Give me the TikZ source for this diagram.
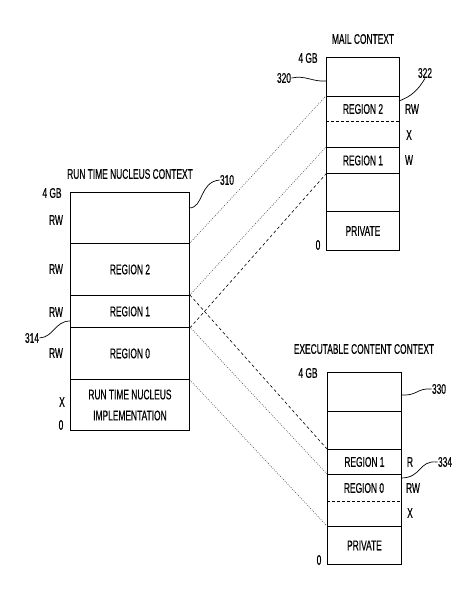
\documentclass[tikz,border=0pt]{standalone}
\usepackage{fontspec}
\setmainfont{Liberation Sans}[FakeStretch=0.6,FakeBold=0.4]
\begin{document}
\begin{tikzpicture}[x=1pt,y=-1pt,line width=0.9pt,
    every node/.style={font=\fontsize{14}{16}\selectfont,inner sep=0pt},
    band/.style={draw,anchor=north west,minimum width=#1},
    lband/.style={band=119pt},
    mband/.style={band=73pt},
    eband/.style={band=74pt},
    sep/.style={line width=0.5pt,dash pattern=on 3pt off 2pt},
    dotmap/.style={line width=0.6pt,black!70,dash pattern=on 0.8pt off 1.4pt},
    dashmap/.style={line width=0.6pt,dash pattern=on 3pt off 2.5pt},
    leader/.style={line width=0.7pt}]
    \useasboundingbox (0,0) rectangle (474,594);

    % run time nucleus context
    \node at (130,174) (ltitle) {RUN TIME NUCLEUS CONTEXT};
    \node[lband, minimum height=51pt] at (70,192) (ltop) {};
    \node[lband, minimum height=52pt] at (70,243) (lr2) {REGION 2};
    \node[lband, minimum height=32pt] at (70,295) (lr1) {REGION 1};
    \node[lband, minimum height=52pt] at (70,327) (lr0) {REGION 0};
    \node[lband, minimum height=51pt, align=center, text depth=0pt] at (70,379) (limp) {RUN TIME NUCLEUS\\[5pt]IMPLEMENTATION};
    \node at (52,193) (lgb) {4 GB};
    \node at (56,220) {RW};
    \node at (56,269) {RW};
    \node at (56,312) {RW};
    \node at (56,353) {RW};
    \node at (62,402) {X};
    \node at (61,425) {0};
    \node at (227,180) (l310) {310};
    \node at (32,338) (l314) {314};
    \coordinate (a310) at (189,208);
    \coordinate (a314) at (70,321);
    \draw[leader] (a310) .. controls (204,208) and (199,182) .. (l310.west);
    \draw[leader] (l314.east) .. controls (54,337) and (55,321) .. (a314);

    % mail context
    \node at (363,39) (mtitle) {MAIL CONTEXT};
    \node[mband, minimum height=39pt] at (326,57) (mtop) {};
    \node[mband, minimum height=51pt] at (326,96) (mr2) {};
    \node[mband, minimum height=26pt] at (326,147) (mr1) {REGION 1};
    \node[mband, minimum height=38pt] at (326,173) (mfree) {};
    \node[mband, minimum height=39pt] at (326,211) (mpriv) {PRIVATE};
    \draw[sep] (mr2.west |- 0,121) -- (mr2.east |- 0,121);
    \node at (363,109) {REGION 2};
    \node at (308,58) (mgb) {4 GB};
    \node at (412,109) {RW};
    \node at (409,135) {X};
    \node at (409,160) {W};
    \node at (318,245) {0};
    \node at (284,78) (l320) {320};
    \node at (425,73) (l322) {322};
    \coordinate (a320) at (326,81);
    \coordinate (a322) at (399,101);
    \draw[leader] (l320.east) .. controls (306,75) and (312,82) .. (a320);
    \draw[leader] (a322) .. controls (412,96) and (418,90) .. (l322.south);

    % executable content context
    \node at (364,349) (etitle) {EXECUTABLE CONTENT CONTEXT};
    \node[eband, minimum height=39pt] at (327,372) (etop) {};
    \node[eband, minimum height=38pt] at (327,411) (efree) {};
    \node[eband, minimum height=25pt] at (327,449) (er1) {REGION 1};
    \node[eband, minimum height=52pt] at (327,474) (er0) {};
    \node[eband, minimum height=38pt] at (327,526) (epriv) {PRIVATE};
    \draw[sep] (er0.west |- 0,501) -- (er0.east |- 0,501);
    \node at (364,488) {REGION 0};
    \node at (308,373) (egb) {4 GB};
    \node at (410,462) {R};
    \node at (413,488) {RW};
    \node at (410,513) {X};
    \node at (319,560) {0};
    \node at (439,389) (l330) {330};
    \node at (445,462) (l334) {334};
    \coordinate (a330) at (401,395);
    \coordinate (a334) at (401,478);
    \draw[leader] (a330) .. controls (418,396) and (416,388) .. (l330.west);
    \draw[leader] (a334) .. controls (422,478) and (418,460) .. (l334.west);

    % mappings
    \path[dotmap] (lr2.north east) edge (mr2.north west);
    \path[dotmap] (lr1.north east) edge (mr1.north west);
    \path[dashmap] (lr1.south east) edge (mr1.south west);
    \path[dashmap] (lr1.north east) edge (er1.north west);
    \path[dotmap] (lr0.north east) edge (er0.north west);
    \path[dotmap] (lr0.south east) edge (epriv.north west);
\end{tikzpicture}
\end{document}
